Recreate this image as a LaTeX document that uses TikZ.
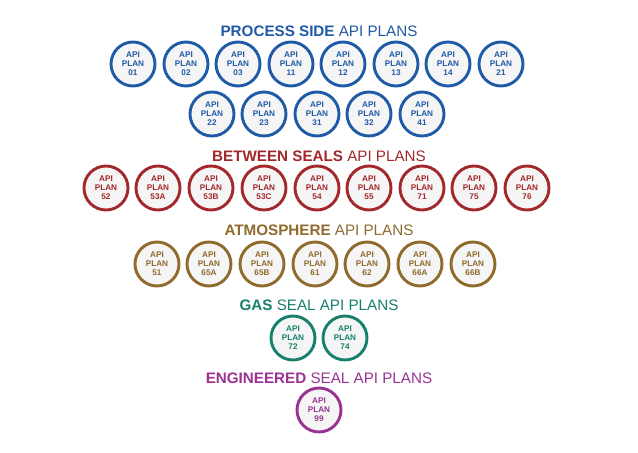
\documentclass[tikz,border=0pt]{standalone}
\usepackage{fontspec}
\setmainfont{Liberation Sans}
\definecolor{cblue}{HTML}{1E5AA5}
\definecolor{cred}{HTML}{A3282B}
\definecolor{cgold}{HTML}{8E6A2C}
\definecolor{cteal}{HTML}{17806D}
\definecolor{cpurp}{HTML}{9A3292}
\tikzset{
  plan/.style={circle,draw=#1,line width=2.9pt,fill=gray!8,minimum size=44pt,inner sep=0pt,
    text=#1,font=\fontsize{8.2}{8.9}\selectfont\bfseries,align=center},
  ttl/.style={text=#1,font=\fontsize{15.2}{17}\selectfont,anchor=center,inner sep=0pt}
}
\newcommand{\pl}[1]{API\\PLAN\\#1}
\begin{document}
\begin{tikzpicture}[x=1pt,y=-1pt]
\useasboundingbox (0,0) rectangle (638,453);
\fill[white] (0,0) rectangle (638,453);
% titles
\node[ttl=cblue] (t1) at (319,31) {\textbf{PROCESS SIDE} API PLANS};
\node[ttl=cred] (t2) at (319,156) {\textbf{BETWEEN SEALS} API PLANS};
\node[ttl=cgold] (t3) at (319,230) {\textbf{ATMOSPHERE} API PLANS};
\node[ttl=cteal] (t4) at (319,305) {\textbf{GAS} SEAL API PLANS};
\node[ttl=cpurp] (t5) at (319,378) {\textbf{ENGINEERED} SEAL API PLANS};
% rows
\foreach \x/\n in {133/01,186/02,238/03,291/11,343/12,396/13,448/14,501/21}
  \node[plan=cblue] (b\n) at (\x,64) {\pl{\n}};
\foreach \x/\n in {212/22,264/23,317/31,369/32,422/41}
  \node[plan=cblue] (b\n) at (\x,114) {\pl{\n}};
\foreach \x/\n in {106/52,158/53A,211/53B,264/53C,317/54,369/55,422/71,474/75,527/76}
  \node[plan=cred] (r\n) at (\x,188) {\pl{\n}};
\foreach \x/\n in {157/51,209/65A,262/65B,315/61,367/62,420/66A,473/66B}
  \node[plan=cgold] (g\n) at (\x,264) {\pl{\n}};
\foreach \x/\n in {293/72,345/74}
  \node[plan=cteal] (e\n) at (\x,338) {\pl{\n}};
\node[plan=cpurp] (p99) at (319,410) {\pl{99}};
\end{tikzpicture}
\end{document}
